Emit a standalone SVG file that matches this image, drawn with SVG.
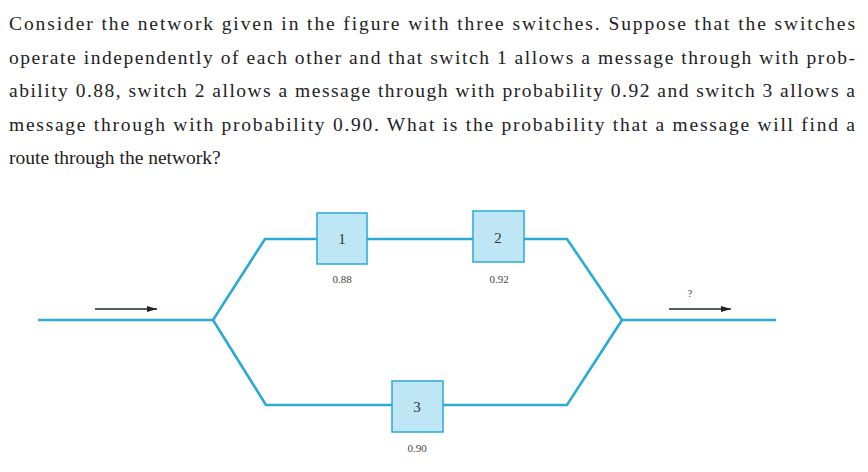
<svg xmlns="http://www.w3.org/2000/svg" width="868" height="472" viewBox="0 0 868 472">
<style>
.t{font-family:"Liberation Serif","DejaVu Serif",serif;font-size:19.5px;fill:#222}
.w{fill:none;stroke:#29abd6;stroke-width:2.6}
.b{fill:#bfe6f5;stroke:#29abd6;stroke-width:1.5}
.n{font-family:"Liberation Serif",serif;font-size:15px;fill:#333;text-anchor:middle}
.p{font-family:"Liberation Serif",serif;font-size:11px;fill:#444;text-anchor:middle}
</style>
<defs><marker id="a" markerWidth="10" markerHeight="6" refX="10" refY="3" orient="auto" markerUnits="userSpaceOnUse"><path d="M0,0L10,3L0,6z" fill="#222"/></marker></defs>
<g id="text">
<text class="t" x="9" y="30" textLength="846" lengthAdjust="spacing">Consider the network given in the figure with three switches. Suppose that the switches</text>
<text class="t" x="9" y="64" textLength="846" lengthAdjust="spacing">operate independently of each other and that switch 1 allows a message through with prob-</text>
<text class="t" x="9" y="97" textLength="846" lengthAdjust="spacing">ability 0.88, switch 2 allows a message through with probability 0.92 and switch 3 allows a</text>
<text class="t" x="9" y="131" textLength="846" lengthAdjust="spacing">message through with probability 0.90. What is the probability that a message will find a</text>
<text class="t" x="9" y="164">route through the network?</text>
</g>
<g id="connectors">
<path class="w" d="M38,320H213L265,239H317M367,239H473M524,239H567L622,320H776"/>
<path class="w" d="M213,320L266,405H392M443,405H567L622,320"/>
<line x1="95" y1="309" x2="157" y2="309" stroke="#222" stroke-width="1.3" marker-end="url(#a)"/>
<line x1="669" y1="309" x2="731" y2="309" stroke="#222" stroke-width="1.3" marker-end="url(#a)"/>
<text class="p" x="690" y="297">?</text>
</g>
<g id="s1"><rect class="b" x="317" y="213" width="50" height="51"/><text class="n" x="342" y="244">1</text><text class="p" x="342" y="283">0.88</text></g>
<g id="s2"><rect class="b" x="473" y="211" width="51" height="51"/><text class="n" x="498" y="243">2</text><text class="p" x="499" y="283">0.92</text></g>
<g id="s3"><rect class="b" x="392" y="381" width="51" height="51"/><text class="n" x="417" y="412">3</text><text class="p" x="417" y="452">0.90</text></g>
</svg>
